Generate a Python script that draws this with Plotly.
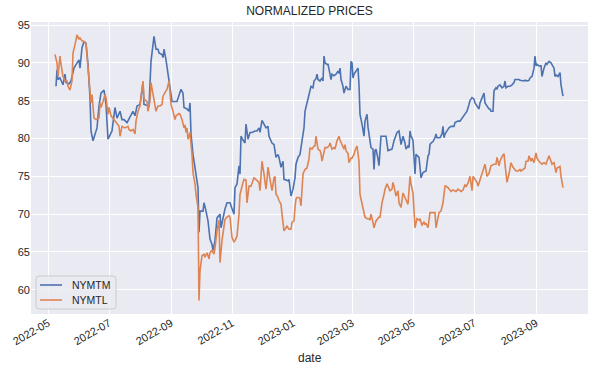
import plotly.graph_objects as go

# ---------------- data ----------------
M_DATES = [
"2022-05-09","2022-05-10","2022-05-11","2022-05-13","2022-05-16","2022-05-18","2022-05-19","2022-05-22","2022-05-24","2022-05-27",
"2022-05-30","2022-06-01","2022-06-02","2022-06-04","2022-06-06","2022-06-08","2022-06-10","2022-06-12","2022-06-13","2022-06-15",
"2022-06-19","2022-06-21","2022-06-23","2022-06-26","2022-06-28","2022-06-30","2022-07-04","2022-07-07","2022-07-09","2022-07-12",
"2022-07-14","2022-07-16","2022-07-19","2022-07-23","2022-07-25","2022-07-27","2022-07-29","2022-08-01","2022-08-03","2022-08-04",
"2022-08-05","2022-08-09","2022-08-10","2022-08-12","2022-08-14","2022-08-15","2022-08-17","2022-08-19","2022-08-20","2022-08-23",
"2022-08-24","2022-08-25","2022-08-27","2022-08-29","2022-08-31","2022-09-02","2022-09-07","2022-09-10","2022-09-11","2022-09-13",
"2022-09-14","2022-09-17","2022-09-19","2022-09-20","2022-09-21","2022-09-23","2022-09-25","2022-09-27","2022-09-28","2022-09-29",
"2022-09-30","2022-10-03","2022-10-04","2022-10-06","2022-10-08","2022-10-10","2022-10-12","2022-10-13","2022-10-15","2022-10-17",
"2022-10-20","2022-10-21","2022-10-24","2022-10-25","2022-10-27","2022-10-30","2022-11-03","2022-11-04","2022-11-06","2022-11-08",
"2022-11-09","2022-11-10","2022-11-12","2022-11-14","2022-11-15","2022-11-17","2022-11-19","2022-11-21","2022-11-24","2022-11-26",
"2022-11-28","2022-11-29","2022-12-01","2022-12-03","2022-12-05","2022-12-07","2022-12-08","2022-12-11","2022-12-13","2022-12-15",
"2022-12-17","2022-12-18","2022-12-20","2022-12-22","2022-12-23","2022-12-27","2022-12-28","2022-12-30","2023-01-01","2023-01-03",
"2023-01-04","2023-01-06","2023-01-08","2023-01-10","2023-01-12","2023-01-13","2023-01-15","2023-01-17","2023-01-19","2023-01-21",
"2023-01-22","2023-01-24","2023-01-25","2023-01-26","2023-01-28","2023-01-30","2023-01-31","2023-02-01","2023-02-02","2023-02-04",
"2023-02-05","2023-02-07","2023-02-08","2023-02-09","2023-02-11","2023-02-13","2023-02-15","2023-02-16","2023-02-17","2023-02-18",
"2023-02-20","2023-02-21","2023-02-23","2023-02-25","2023-02-27","2023-02-28","2023-03-01","2023-03-02","2023-03-03","2023-03-05",
"2023-03-07","2023-03-08","2023-03-09","2023-03-11","2023-03-13","2023-03-14","2023-03-16","2023-03-17","2023-03-19","2023-03-20",
"2023-03-22","2023-03-23","2023-03-24","2023-03-25","2023-03-27","2023-03-28","2023-03-30","2023-04-02","2023-04-04","2023-04-06",
"2023-04-09","2023-04-10","2023-04-12","2023-04-14","2023-04-15","2023-04-17","2023-04-18","2023-04-19","2023-04-21","2023-04-22",
"2023-04-23","2023-04-24","2023-04-26","2023-04-27","2023-04-28","2023-04-29","2023-04-30","2023-05-01","2023-05-02","2023-05-03",
"2023-05-04","2023-05-07","2023-05-08","2023-05-09","2023-05-11","2023-05-13","2023-05-14","2023-05-16","2023-05-17","2023-05-18",
"2023-05-19","2023-05-21","2023-05-23","2023-05-24","2023-05-25","2023-05-27","2023-05-28","2023-05-30","2023-05-31","2023-06-01",
"2023-06-02","2023-06-04","2023-06-06","2023-06-08","2023-06-11","2023-06-12","2023-06-15","2023-06-17","2023-06-19","2023-06-21",
"2023-06-22","2023-06-24","2023-06-26","2023-06-27","2023-06-29","2023-07-01","2023-07-02","2023-07-04","2023-07-06","2023-07-07",
"2023-07-09","2023-07-11","2023-07-12","2023-07-14","2023-07-16","2023-07-17","2023-07-18","2023-07-20","2023-07-21","2023-07-23",
"2023-07-24","2023-07-25","2023-07-27","2023-07-29","2023-07-31","2023-08-01","2023-08-02","2023-08-04","2023-08-06","2023-08-08",
"2023-08-10","2023-08-11","2023-08-13","2023-08-15","2023-08-16","2023-08-18","2023-08-20","2023-08-21","2023-08-23","2023-08-25",
"2023-08-26","2023-08-28","2023-08-30","2023-08-31","2023-09-01","2023-09-02","2023-09-04","2023-09-06","2023-09-07","2023-09-09",
"2023-09-10","2023-09-11","2023-09-12","2023-09-14","2023-09-16","2023-09-17","2023-09-19","2023-09-20","2023-09-21","2023-09-23",
"2023-09-25","2023-09-26","2023-09-28",
]
M_VALUES = [
86.9,89.1,87.8,88.0,87.1,88.5,87.4,87.2,87.6,89.3,
90.0,90.4,89.3,92.0,92.8,92.6,89.8,85.4,81.0,79.7,
81.4,84.3,86.0,86.4,84.5,79.9,81.0,84.1,82.7,83.6,
82.5,82.5,82.1,83.2,83.6,83.0,84.3,84.5,86.7,87.4,
84.5,84.3,84.3,90.2,92.2,93.5,91.8,91.8,91.3,91.1,
90.7,91.8,90.4,88.5,86.7,84.9,84.9,86.0,86.5,86.0,
84.1,83.9,83.6,84.7,80.6,77.9,76.2,74.0,73.5,67.6,
70.4,70.4,71.5,70.4,69.1,66.7,66.0,65.2,66.5,69.5,
70.0,68.2,70.2,70.7,71.5,71.5,70.0,73.5,74.0,76.4,
75.3,80.3,79.8,79.4,81.9,79.9,80.8,80.8,81.0,81.0,
81.4,80.8,82.4,81.9,81.4,81.6,80.3,79.4,79.2,77.5,
77.9,77.5,76.2,77.0,74.6,74.4,74.6,72.4,73.3,74.8,
76.6,77.5,77.9,79.7,81.4,83.6,84.7,85.8,86.9,86.7,
87.6,87.9,88.5,87.8,87.6,88.0,87.6,90.9,90.0,89.8,
89.8,88.5,87.8,88.5,88.3,88.5,88.9,88.6,89.3,87.8,
86.9,86.0,86.9,86.5,86.5,90.2,90.0,88.0,88.5,88.9,
89.3,87.1,83.2,81.9,80.3,82.3,83.2,81.5,79.7,78.8,
78.6,75.9,78.4,78.6,77.3,76.4,80.3,80.3,80.3,78.4,
78.6,78.6,79.7,80.3,80.8,81.0,80.3,79.2,80.3,79.9,
79.4,78.6,79.0,78.8,81.0,80.3,80.1,79.7,77.9,75.3,
77.9,77.5,76.2,74.8,75.5,75.7,75.7,77.7,77.9,79.2,
79.4,79.6,80.1,80.6,80.1,80.1,80.1,80.6,81.6,80.1,
80.6,81.0,81.4,81.6,81.6,82.1,82.3,82.3,82.7,83.0,
83.2,83.6,84.5,85.0,85.4,85.2,84.7,84.3,83.9,84.7,
85.4,86.0,84.7,84.3,83.9,83.9,83.6,83.6,86.3,86.7,
86.5,86.9,87.1,86.7,86.9,87.6,86.7,86.9,86.9,87.1,
87.4,87.8,87.8,87.8,87.7,87.6,87.6,87.7,87.6,87.7,
88.0,88.2,89.3,90.9,89.6,89.8,89.6,89.6,88.2,89.3,
89.8,90.0,89.8,90.2,90.0,89.8,89.3,88.2,88.4,88.2,
88.7,87.1,85.6,
]

L_DATES = [
"2022-05-08","2022-05-10","2022-05-11","2022-05-13","2022-05-14","2022-05-16","2022-05-18","2022-05-20","2022-05-21","2022-05-23",
"2022-05-25","2022-05-26","2022-05-28","2022-05-30","2022-06-01","2022-06-02","2022-06-04","2022-06-06","2022-06-08","2022-06-10",
"2022-06-12","2022-06-13","2022-06-14","2022-06-16","2022-06-18","2022-06-21","2022-06-22","2022-06-23","2022-06-25","2022-06-27",
"2022-06-28","2022-06-30","2022-07-01","2022-07-03","2022-07-06","2022-07-08","2022-07-11","2022-07-12","2022-07-14","2022-07-17",
"2022-07-20","2022-07-21","2022-07-23","2022-07-25","2022-07-27","2022-07-28","2022-07-30","2022-08-01","2022-08-03","2022-08-04",
"2022-08-05","2022-08-08","2022-08-09","2022-08-11","2022-08-12","2022-08-14","2022-08-15","2022-08-17","2022-08-19","2022-08-21",
"2022-08-23","2022-08-24","2022-08-27","2022-08-28","2022-08-30","2022-08-31","2022-09-01","2022-09-03","2022-09-05","2022-09-06",
"2022-09-09","2022-09-10","2022-09-12","2022-09-14","2022-09-15","2022-09-16","2022-09-17","2022-09-18","2022-09-20","2022-09-21",
"2022-09-22","2022-09-23","2022-09-25","2022-09-26","2022-09-27","2022-09-28","2022-09-29","2022-09-30","2022-10-02","2022-10-04",
"2022-10-05","2022-10-07","2022-10-09","2022-10-10","2022-10-12","2022-10-14","2022-10-15","2022-10-17","2022-10-19","2022-10-20",
"2022-10-22","2022-10-24","2022-10-25","2022-10-27","2022-10-29","2022-10-30","2022-11-01","2022-11-03","2022-11-04","2022-11-06",
"2022-11-08","2022-11-09","2022-11-11","2022-11-12","2022-11-13","2022-11-15","2022-11-16","2022-11-18","2022-11-20","2022-11-23",
"2022-11-24","2022-11-26","2022-11-28","2022-11-29","2022-11-30","2022-12-01","2022-12-03","2022-12-05","2022-12-06","2022-12-07",
"2022-12-09","2022-12-10","2022-12-11","2022-12-13","2022-12-14","2022-12-15","2022-12-16","2022-12-18","2022-12-20","2022-12-21",
"2022-12-23","2022-12-25","2022-12-26","2022-12-28","2022-12-30","2022-12-31","2023-01-02","2023-01-03","2023-01-04","2023-01-05",
"2023-01-07","2023-01-08","2023-01-09","2023-01-11","2023-01-13","2023-01-15","2023-01-17","2023-01-18","2023-01-20","2023-01-22",
"2023-01-23","2023-01-24","2023-01-26","2023-01-28","2023-01-29","2023-01-30","2023-02-01","2023-02-02","2023-02-04","2023-02-06",
"2023-02-07","2023-02-09","2023-02-11","2023-02-12","2023-02-14","2023-02-16","2023-02-17","2023-02-19","2023-02-21","2023-02-22",
"2023-02-23","2023-02-25","2023-02-26","2023-02-28","2023-03-01","2023-03-03","2023-03-04","2023-03-06","2023-03-08","2023-03-09",
"2023-03-11","2023-03-13","2023-03-14","2023-03-16","2023-03-18","2023-03-19","2023-03-20","2023-03-22","2023-03-23","2023-03-25",
"2023-03-28","2023-03-29","2023-03-31","2023-04-02","2023-04-03","2023-04-05","2023-04-07","2023-04-08","2023-04-10","2023-04-11",
"2023-04-12","2023-04-14","2023-04-16","2023-04-17","2023-04-19","2023-04-21","2023-04-23","2023-04-25","2023-04-26","2023-04-28",
"2023-04-29","2023-05-01","2023-05-02","2023-05-03","2023-05-05","2023-05-07","2023-05-08","2023-05-10","2023-05-12","2023-05-13",
"2023-05-14","2023-05-16","2023-05-18","2023-05-21","2023-05-23","2023-05-24","2023-05-26","2023-05-27","2023-05-29","2023-05-31",
"2023-06-02","2023-06-03","2023-06-05","2023-06-08","2023-06-10","2023-06-13","2023-06-15","2023-06-18","2023-06-20","2023-06-22",
"2023-06-23","2023-06-25","2023-06-27","2023-06-28","2023-06-29","2023-06-30","2023-07-02","2023-07-04","2023-07-05","2023-07-07",
"2023-07-10","2023-07-12","2023-07-14","2023-07-16","2023-07-18","2023-07-21","2023-07-23","2023-07-24","2023-07-26","2023-07-27",
"2023-07-29","2023-07-31","2023-08-01","2023-08-03","2023-08-05","2023-08-06","2023-08-07","2023-08-09","2023-08-11","2023-08-12",
"2023-08-14","2023-08-16","2023-08-17","2023-08-19","2023-08-21","2023-08-22","2023-08-24","2023-08-25","2023-08-27","2023-08-28",
"2023-08-30","2023-09-01","2023-09-02","2023-09-04","2023-09-06","2023-09-07","2023-09-09","2023-09-11","2023-09-12","2023-09-14",
"2023-09-16","2023-09-17","2023-09-19","2023-09-21","2023-09-22","2023-09-24","2023-09-25","2023-09-26","2023-09-28",
]
L_VALUES = [
91.1,90.0,88.2,90.9,89.8,88.2,87.6,87.6,86.9,86.4,
87.6,91.3,92.4,93.7,93.1,93.3,92.9,92.8,92.5,89.3,
86.3,84.7,85.8,82.7,82.5,82.7,84.7,84.1,84.9,85.8,
85.4,83.2,84.1,83.0,82.5,82.1,81.6,80.3,81.6,81.4,
81.6,81.2,81.0,81.2,80.6,82.3,83.6,84.3,86.3,87.6,
85.2,84.9,83.6,84.9,87.4,86.0,84.9,83.6,84.3,84.3,
84.5,85.6,86.3,86.5,87.6,86.3,84.5,83.6,82.5,83.0,
83.3,83.2,82.5,81.4,81.8,80.8,81.4,79.9,80.8,79.2,
77.9,75.5,74.0,72.6,71.8,70.9,58.6,62.5,64.5,64.7,
64.3,64.9,64.1,64.9,65.2,64.7,65.5,67.8,69.2,63.6,
66.5,68.0,69.3,69.6,69.8,69.6,66.9,66.3,66.5,67.1,
70.0,72.6,74.0,74.2,74.6,74.5,71.5,73.7,73.7,74.8,
74.7,74.4,74.2,73.1,75.3,77.0,75.3,73.3,74.6,76.2,
74.6,74.0,73.1,74.8,75.0,72.6,72.5,71.8,71.3,70.0,
67.8,68.2,68.4,68.0,68.0,68.9,69.1,70.9,72.0,72.2,
72.2,72.0,71.1,75.3,75.9,76.1,77.3,78.8,78.6,79.0,
79.0,80.3,78.6,78.4,78.0,77.0,78.6,78.8,78.8,79.0,
79.4,78.6,78.8,78.6,79.7,80.3,79.8,79.2,78.6,79.2,
78.4,78.0,76.8,77.4,77.4,77.9,78.4,79.0,77.0,72.6,
71.5,70.0,69.6,69.4,69.4,69.2,70.0,68.9,68.2,69.1,
69.6,69.6,71.5,72.6,73.3,74.0,73.3,73.1,73.3,74.2,
73.7,72.4,73.1,71.5,70.9,72.8,72.2,71.5,71.3,75.0,
74.0,72.8,70.0,68.2,69.4,69.2,69.4,68.5,69.0,68.6,
68.8,68.2,70.2,70.2,70.2,68.2,69.4,70.2,70.4,71.5,
73.7,73.7,73.5,73.0,73.2,73.0,73.3,73.0,73.2,73.9,
73.6,74.1,75.0,73.5,73.1,75.0,74.6,74.2,73.7,74.6,
75.7,76.6,75.0,75.4,76.4,76.6,76.6,77.5,76.4,77.0,
77.6,78.0,76.6,74.2,75.3,75.9,76.8,76.2,75.9,75.7,
75.7,75.9,75.7,75.9,76.1,77.0,77.0,77.7,77.0,77.4,
76.8,78.1,77.4,77.0,76.8,76.6,76.8,76.6,77.0,77.7,
77.0,76.6,76.8,75.5,76.1,76.3,76.3,75.0,73.5,
]

SERIES_NAMES = ["NYMTM", "NYMTL"]
Y_TICKS = [60, 65, 70, 75, 80, 85, 90, 95]
TITLE = "NORMALIZED PRICES"
X_LABEL = "date"

# ---------------- styling ----------------
BLUE = "#4C72B0"
ORANGE = "#DD8452"
BG = "#EAEAF2"
TXT = "#262626"
FONT = "Liberation Sans, Arial, sans-serif"
COLORS = [BLUE, ORANGE]

# plot-area geometry in pixels (used only for layout placement)
W, H = 601, 374
ML, MR, MT, MB = 31, 13, 22, 60
PW, PH = W - ML - MR, H - MT - MB


def px_x(px):  # page x pixel -> paper fraction
    return (px - ML) / PW


def px_y(py):  # page y pixel -> paper fraction
    return (H - MB - py) / PH


fig = go.Figure()
fig.add_trace(go.Scatter(x=M_DATES, y=M_VALUES, mode="lines", name=SERIES_NAMES[0],
                         line=dict(color=BLUE, width=1.6)))
fig.add_trace(go.Scatter(x=L_DATES, y=L_VALUES, mode="lines", name=SERIES_NAMES[1],
                         line=dict(color=ORANGE, width=1.6)))

# matplotlib-style legend box (lower left, rounded frame)
x0, x1, y0, y1 = px_x(36), px_x(116), px_y(309), px_y(276)
rx, ry = 3 / PW, 3 / PH
legend_path = (f"M {x0+rx},{y0} L {x1-rx},{y0} Q {x1},{y0} {x1},{y0+ry} "
               f"L {x1},{y1-ry} Q {x1},{y1} {x1-rx},{y1} L {x0+rx},{y1} "
               f"Q {x0},{y1} {x0},{y1-ry} L {x0},{y0+ry} Q {x0},{y0} {x0+rx},{y0} Z")
shapes = [dict(type="path", path=legend_path, xref="paper", yref="paper",
               fillcolor="rgba(234,234,242,0.8)", line=dict(color="#CCCCCC", width=1))]
annotations = []
for i, (name, col) in enumerate(zip(SERIES_NAMES, COLORS)):
    yy = px_y(285 + 15 * i)
    shapes.append(dict(type="line", xref="paper", yref="paper",
                       x0=px_x(40), x1=px_x(62), y0=yy, y1=yy,
                       line=dict(color=col, width=1.6)))
    annotations.append(dict(text=name, xref="paper", yref="paper", x=px_x(70), y=yy,
                            xanchor="left", yanchor="middle", showarrow=False,
                            font=dict(size=10.5, color=TXT)))

annotations.append(dict(text=X_LABEL, xref="paper", yref="paper", x=0.5, y=px_y(358),
                        xanchor="center", yanchor="middle", showarrow=False,
                        font=dict(size=12, color=TXT)))

fig.update_layout(
    width=W, height=H,
    margin=dict(l=ML, r=MR, t=MT, b=MB, autoexpand=False),
    paper_bgcolor="white",
    plot_bgcolor=BG,
    font=dict(family=FONT, color=TXT, size=11),
    title=dict(text=TITLE, x=0.5, xref="paper", xanchor="center",
               y=1 - 11 / H, yref="container", yanchor="middle",
               font=dict(size=12, color=TXT), automargin=False),
    showlegend=False,
    xaxis=dict(
        type="date",
        range=["2022-04-14", "2023-10-23"],
        tick0="2022-05-01", dtick="M2", tickformat="%Y-%m",
        tickangle=-30, automargin=False,
        showgrid=True, gridcolor="white", gridwidth=1,
        zeroline=False, showline=False, ticks="",
        tickfont=dict(size=11, color=TXT),
    ),
    yaxis=dict(
        range=[56.8, 95.4],
        tickvals=Y_TICKS, automargin=False,
        showgrid=True, gridcolor="white", gridwidth=1,
        zeroline=False, showline=False, ticks="",
        tickfont=dict(size=11, color=TXT),
    ),
    shapes=shapes,
    annotations=annotations,
)

# remove the browser's default 8px body margin so the figure sits at the page origin
fig.write_html("out.html", config={"displayModeBar": False},
               post_script="document.body.style.margin='0';")
